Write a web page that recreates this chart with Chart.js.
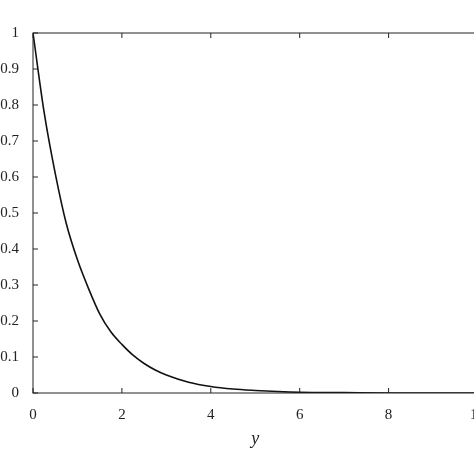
<!DOCTYPE html>
<html><head><meta charset="utf-8">
<script src="https://cdn.jsdelivr.net/npm/chart.js@4/dist/chart.umd.min.js"></script>
<style>html,body{margin:0;padding:0;overflow:hidden;background:#fff}#w{width:490px;height:474px}</style>
</head><body><div id="w"><canvas id="c"></canvas></div>
<script>
// courbe (abscisse y, ordonnée f)
const xs = [0, 0.25, 0.5, 0.75, 1, 1.25, 1.5, 1.75, 2, 2.25, 2.5, 2.75, 3, 3.5, 4, 4.5, 5, 5.5, 6, 7, 8, 9, 10];
const ys = [1, 0.78, 0.61, 0.47, 0.37, 0.29, 0.22, 0.17, 0.135, 0.105, 0.082, 0.064, 0.05, 0.03, 0.018, 0.011, 0.007, 0.004, 0.002, 0.001, 0, 0, 0];
const xTicks = [0, 2, 4, 6, 8, 10];
const yTicks = [0, 0.1, 0.2, 0.3, 0.4, 0.5, 0.6, 0.7, 0.8, 0.9, 1];

const FONT = "'Liberation Serif', 'DejaVu Serif', serif";

// cadre + graduations vers l'intérieur
const cadre = {
  id: "cadre",
  afterDraw(chart) {
    const { ctx, chartArea: a, scales } = chart;
    ctx.save();
    ctx.strokeStyle = "#222";
    ctx.lineWidth = 1;
    ctx.strokeRect(a.left, a.top, a.right - a.left, a.bottom - a.top);
    ctx.beginPath();
    xTicks.forEach((t) => {
      const px = scales.x.getPixelForValue(t);
      ctx.moveTo(px, a.bottom); ctx.lineTo(px, a.bottom - 5);
      ctx.moveTo(px, a.top); ctx.lineTo(px, a.top + 5);
    });
    yTicks.forEach((t) => {
      const py = scales.y.getPixelForValue(t);
      ctx.moveTo(a.left, py); ctx.lineTo(a.left + 5, py);
    });
    ctx.stroke();
    ctx.restore();
  },
};

new Chart(document.getElementById("c"), {
  type: "line",
  data: {
    datasets: [{
      data: xs.map((x, i) => ({ x, y: ys[i] })),
      borderColor: "#111",
      borderWidth: 1.6,
      cubicInterpolationMode: "monotone",
      pointRadius: 0,
      fill: false,
    }],
  },
  options: {
    responsive: true,
    maintainAspectRatio: false,
    animation: false,
    layout: { padding: { top: 33, right: 7, left: 0, bottom: 0 } },
    plugins: { legend: { display: false }, tooltip: { enabled: false } },
    scales: {
      x: {
        type: "linear", min: 0, max: 10,
        afterBuildTicks: (s) => { s.ticks = xTicks.map((v) => ({ value: v })); },
        afterFit: (s) => { s.height = 81; },
        grid: { display: false },
        border: { display: false },
        ticks: { color: "#222", font: { family: FONT, size: 15 }, padding: 5, maxRotation: 0,
                 callback: (v) => String(v) },
        title: { display: true, text: "y", color: "#222", font: { family: FONT, size: 18, style: "italic" }, padding: { top: 0, bottom: 24 } },
      },
      y: {
        min: 0, max: 1,
        afterBuildTicks: (s) => { s.ticks = yTicks.map((v) => ({ value: v })); },
        afterFit: (s) => { s.width = 33; },
        grid: { display: false },
        border: { display: false },
        ticks: { color: "#222", font: { family: FONT, size: 15 }, padding: 6,
                 callback: (v) => String(Math.round(v * 10) / 10) },
      },
    },
  },
  plugins: [cadre],
});
</script></body></html>
